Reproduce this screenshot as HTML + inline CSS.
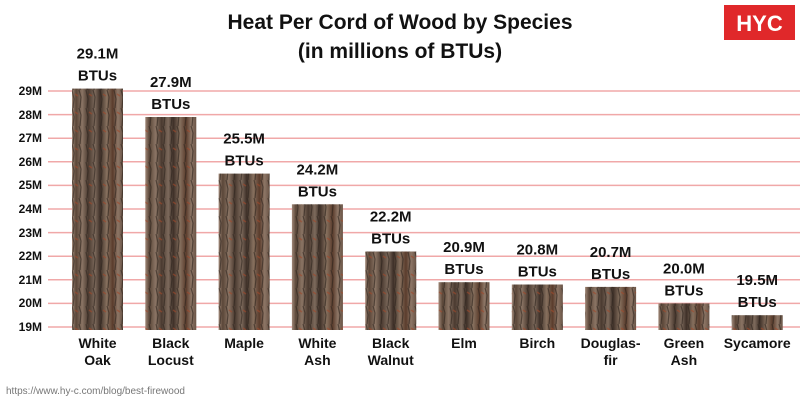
<!DOCTYPE html>
<html><head><meta charset="utf-8"><style>
body{margin:0;background:#fff;width:800px;height:400px;overflow:hidden;font-family:"Liberation Sans",sans-serif}
</style></head><body>
<svg width="800" height="400" viewBox="0 0 800 400" xmlns="http://www.w3.org/2000/svg">
<defs>
<linearGradient id="bark" x1="0" y1="0" x2="1" y2="0">
<stop offset="0" stop-color="#a08878"/><stop offset="0.08" stop-color="#5a4638"/>
<stop offset="0.2" stop-color="#8a7464"/><stop offset="0.32" stop-color="#4a3a30"/>
<stop offset="0.45" stop-color="#7d6a5c"/><stop offset="0.55" stop-color="#3e3028"/>
<stop offset="0.68" stop-color="#86705e"/><stop offset="0.8" stop-color="#5a3c2c"/>
<stop offset="0.9" stop-color="#8d7666"/><stop offset="1" stop-color="#6a5446"/>
</linearGradient>
<pattern id="cr" width="14" height="18" patternUnits="userSpaceOnUse">
<path d="M2 0 L4 9 L3 18 M9 0 L11 7 L10 18" stroke="#2e241e" stroke-width="1.2" fill="none" opacity="0.6"/>
<path d="M5 4 L8 6" stroke="#a0482a" stroke-width="1.5" opacity="0.6"/>
</pattern>
</defs>
<text x="400" y="29" text-anchor="middle" font-size="21" font-weight="bold" fill="#111">Heat Per Cord of Wood by Species</text>
<text x="400" y="58" text-anchor="middle" font-size="21" font-weight="bold" fill="#111">(in millions of BTUs)</text>
<rect x="724" y="5" width="71" height="35" fill="#e0282a"/>
<text x="759.5" y="31" text-anchor="middle" font-size="22" font-weight="bold" fill="#fff">HYC</text>
<g stroke="#f0a8a8" stroke-width="1.5">
<line x1="48" x2="800" y1="91" y2="91"/><line x1="48" x2="800" y1="114.6" y2="114.6"/>
<line x1="48" x2="800" y1="138.2" y2="138.2"/><line x1="48" x2="800" y1="161.8" y2="161.8"/>
<line x1="48" x2="800" y1="185.4" y2="185.4"/><line x1="48" x2="800" y1="209" y2="209"/>
<line x1="48" x2="800" y1="232.6" y2="232.6"/><line x1="48" x2="800" y1="256.2" y2="256.2"/>
<line x1="48" x2="800" y1="279.8" y2="279.8"/><line x1="48" x2="800" y1="303.4" y2="303.4"/>
<line x1="48" x2="800" y1="327" y2="327"/>
</g>
<g font-size="12" font-weight="bold" fill="#111" text-anchor="end">
<text x="42" y="95">29M</text><text x="42" y="119">28M</text><text x="42" y="142">27M</text>
<text x="42" y="166">26M</text><text x="42" y="189">25M</text><text x="42" y="213">24M</text>
<text x="42" y="237">23M</text><text x="42" y="260">22M</text><text x="42" y="284">21M</text>
<text x="42" y="307">20M</text><text x="42" y="331">19M</text>
</g>
<g>
<rect x="72" y="88.6" width="51" height="241.4" fill="url(#bark)"/><rect x="72" y="88.6" width="51" height="241.4" fill="url(#cr)"/>
<rect x="145.3" y="117" width="51" height="213" fill="url(#bark)"/><rect x="145.3" y="117" width="51" height="213" fill="url(#cr)"/>
<rect x="218.6" y="173.6" width="51" height="156.4" fill="url(#bark)"/><rect x="218.6" y="173.6" width="51" height="156.4" fill="url(#cr)"/>
<rect x="291.9" y="204.3" width="51" height="125.7" fill="url(#bark)"/><rect x="291.9" y="204.3" width="51" height="125.7" fill="url(#cr)"/>
<rect x="365.2" y="251.5" width="51" height="78.5" fill="url(#bark)"/><rect x="365.2" y="251.5" width="51" height="78.5" fill="url(#cr)"/>
<rect x="438.5" y="282.2" width="51" height="47.8" fill="url(#bark)"/><rect x="438.5" y="282.2" width="51" height="47.8" fill="url(#cr)"/>
<rect x="511.8" y="284.5" width="51" height="45.5" fill="url(#bark)"/><rect x="511.8" y="284.5" width="51" height="45.5" fill="url(#cr)"/>
<rect x="585.1" y="286.9" width="51" height="43.1" fill="url(#bark)"/><rect x="585.1" y="286.9" width="51" height="43.1" fill="url(#cr)"/>
<rect x="658.4" y="303.4" width="51" height="26.6" fill="url(#bark)"/><rect x="658.4" y="303.4" width="51" height="26.6" fill="url(#cr)"/>
<rect x="731.7" y="315.2" width="51" height="14.8" fill="url(#bark)"/><rect x="731.7" y="315.2" width="51" height="14.8" fill="url(#cr)"/>
</g>
<g font-size="15" font-weight="bold" fill="#111" text-anchor="middle">
<text x="97.5" y="58.6">29.1M</text><text x="97.5" y="80.6">BTUs</text>
<text x="170.8" y="87">27.9M</text><text x="170.8" y="109">BTUs</text>
<text x="244.1" y="143.6">25.5M</text><text x="244.1" y="165.6">BTUs</text>
<text x="317.4" y="174.3">24.2M</text><text x="317.4" y="196.3">BTUs</text>
<text x="390.7" y="221.5">22.2M</text><text x="390.7" y="243.5">BTUs</text>
<text x="464" y="252.2">20.9M</text><text x="464" y="274.2">BTUs</text>
<text x="537.3" y="254.5">20.8M</text><text x="537.3" y="276.5">BTUs</text>
<text x="610.6" y="256.9">20.7M</text><text x="610.6" y="278.9">BTUs</text>
<text x="683.9" y="273.4">20.0M</text><text x="683.9" y="295.4">BTUs</text>
<text x="757.2" y="285.2">19.5M</text><text x="757.2" y="307.2">BTUs</text>
</g>
<g font-size="14" font-weight="bold" fill="#111" text-anchor="middle">
<text x="97.5" y="348">White</text><text x="97.5" y="365">Oak</text>
<text x="170.8" y="348">Black</text><text x="170.8" y="365">Locust</text>
<text x="244.1" y="348">Maple</text>
<text x="317.4" y="348">White</text><text x="317.4" y="365">Ash</text>
<text x="390.7" y="348">Black</text><text x="390.7" y="365">Walnut</text>
<text x="464" y="348">Elm</text>
<text x="537.3" y="348">Birch</text>
<text x="610.6" y="348">Douglas-</text><text x="610.6" y="365">fir</text>
<text x="683.9" y="348">Green</text><text x="683.9" y="365">Ash</text>
<text x="757.2" y="348">Sycamore</text>
</g>
<text x="6" y="394" font-size="10" fill="#777">https://www.hy-c.com/blog/best-firewood</text>
</svg>
</body></html>
